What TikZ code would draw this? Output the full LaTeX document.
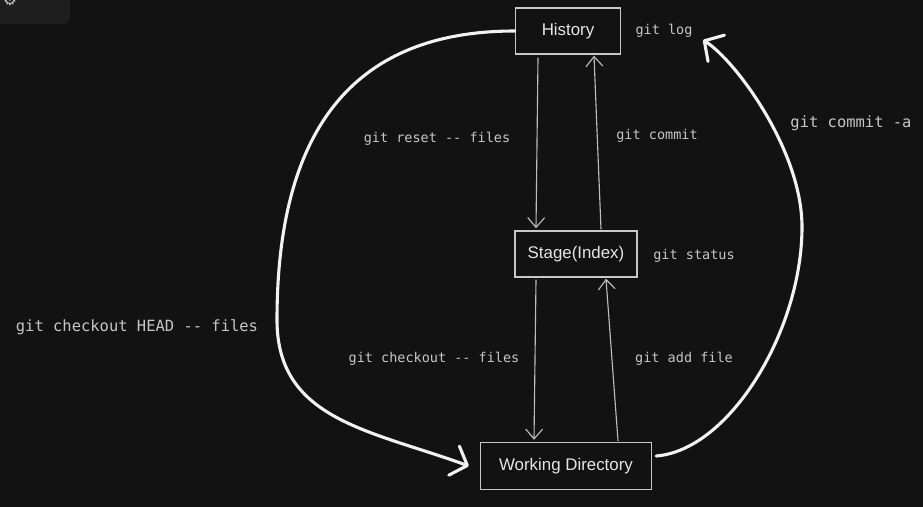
\documentclass[tikz,border=0pt]{standalone}
\usepackage{fontspec}
\setmainfont{Liberation Sans}
\setmonofont{DejaVu Sans Mono}
\newfontfamily\symfont{DejaVu Sans}
\usetikzlibrary{arrows.meta,calc}
\definecolor{bg}{HTML}{121212}
\definecolor{panel}{HTML}{1E1E1E}
\definecolor{boxline}{HTML}{C8C8C8}
\definecolor{thinline}{HTML}{BEBEBE}
\definecolor{txt}{HTML}{C6C6C6}
\definecolor{stroke}{HTML}{F2F2F2}
\tikzset{
    %Define style for boxes
    gbox/.style={
           rectangle,
           draw=boxline, line width=1pt,
           text=white!90!black,
           font=\fontsize{12}{14}\selectfont,
           inner sep=0pt},
    %Define style for labels
    lbl/.style={
           text=txt,
           font=\ttfamily\fontsize{9.6}{11}\selectfont,
           inner sep=0pt},
    biglbl/.style={
           lbl,
           font=\ttfamily\fontsize{11}{13}\selectfont},
    % Define arrow style
    arr/.style={
           -{Straight Barb[length=7pt,width=12pt]},
           draw=thinline,
           line width=0.8pt},
    bigarr/.style={
           -{Straight Barb[length=10pt,width=22pt,round]},
           draw=stroke,
           line width=2.2pt,
           line cap=round}
}
\begin{document}
\begin{tikzpicture}[x=0.025cm, y=-0.025cm]
    \useasboundingbox (0,0) rectangle (923,507);
    \clip (0,0) rectangle (923,507);
    \fill[bg] (0,0) rectangle (923,507);
    % TOOLBAR
    \fill[panel, rounded corners=2mm] (-20,-20) rectangle (70,24);
    \node[text=txt, font=\symfont\fontsize{11}{11}\selectfont] (gear) at (10,0) {⚙};

    % AREAS
    \node[gbox, minimum width=2.625cm, minimum height=1.15cm] at (568,31) (hist) {History};
    \node[gbox, minimum width=3.05cm, minimum height=1.15cm] at (576,254) (stage) {Stage(Index)};
    \node[gbox, minimum width=4.275cm, minimum height=1.175cm] at (566,466) (wd) {Working Directory};

    \draw[arr] ($(hist.south)+(-30,3)$) -- ($(stage.north)+(-40,-2)$);
    \draw[arr] ($(stage.north)+(25,-1)$) -- ($(hist.south)+(26,1)$);
    \draw[arr] ($(stage.south)+(-40,2)$) -- ($(wd.north)+(-32,-2)$);
    \draw[arr] ($(wd.north)+(52,-1)$) -- ($(stage.south)+(30,1)$);

    % BIG LOOPS
    \coordinate (lturn) at (277,320);
    \coordinate (wdin) at ($(wd.west)+(-11,0)$);
    \draw[bigarr] (hist.west) .. controls (370,31) and (277,110) .. (lturn)
        .. controls (277,420) and (370,430) .. (wdin);
    \coordinate (wdout) at ($(wd.east)+(4,-10)$);
    \coordinate (rturn) at (802,227);
    \coordinate (histin) at (703,40);
    \draw[bigarr] (wdout) .. controls (730,450) and (802,330) .. (rturn)
        .. controls (802,150) and (735,60) .. (histin);

    % COMMANDS
    \node[lbl] at (664,31) (loglbl) {git log};
    \node[lbl] at (437,139) (resetlbl) {git reset -{}- files};
    \node[lbl] at (657,136) (commitlbl) {git commit};
    \node[lbl] at (694,256) (statuslbl) {git status};
    \node[lbl] at (434,359) (checkoutlbl) {git checkout -{}- files};
    \node[lbl] at (684,359) (addlbl) {git add file};
    \node[biglbl] at (851,123) (commitalbl) {git commit -a};
    \node[biglbl] at (137,327) (headlbl) {git checkout HEAD -{}- files};
\end{tikzpicture}
\end{document}
